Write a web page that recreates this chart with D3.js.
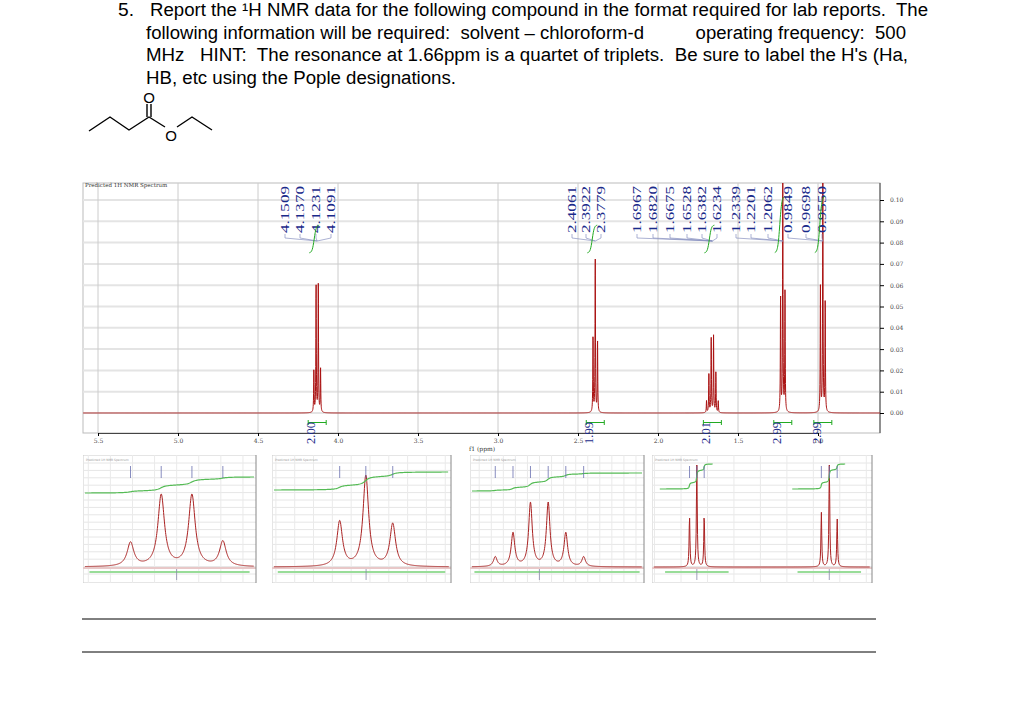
<!DOCTYPE html>
<html><head><meta charset="utf-8">
<script src="https://cdn.jsdelivr.net/npm/d3@7"></script>
<style>body{margin:0;background:#fff}svg{display:block}</style>
</head><body>
<svg id="c" width="1024" height="714"></svg>
<script>
const headerLines=["Report the ¹H NMR data for the following compound in the format required for lab reports.  The","following information will be required:  solvent – chloroform-d          operating frequency:  500","MHz   HINT:  The resonance at 1.66ppm is a quartet of triplets.  Be sure to label the H's (Ha,","HB, etc using the Pople designations."];
const headerWidths=[778,760,762,310];
const peakPpm=[[4.1509,4.1370,4.1231,4.1091],[2.4061,2.3922,2.3779],[1.6967,1.6820,1.6675,1.6528,1.6382,1.6234],[1.2339,1.2201,1.2062],[0.9849,0.9698,0.9550]];
const peakInt=[[0.020,0.060,0.060,0.021],[0.036,0.0725,0.034],[0.0055,0.019,0.036,0.036,0.019,0.0055],[0.055,0.115,0.057],[0.059,0.118,0.052]];
const integrals=["2.00","1.99","2.01","2.99","2.99"];
const labelX=[[285,300,316,331],[572,586,601],[637,653,670,687,702,717],[736,751,768],[788,806,822]];
const xTicks=[5.5,5.0,4.5,4.0,3.5,3.0,2.5,2.0,1.5,1.0];
const yTicks=[0,0.01,0.02,0.03,0.04,0.05,0.06,0.07,0.08,0.09,0.10];

const svg=d3.select("#c");
const F="Liberation Sans, Arial, sans-serif";
svg.append("text").attr("x",118).attr("y",16).attr("font-family",F).attr("font-size",18).attr("textLength",16).attr("lengthAdjust","spacingAndGlyphs").text("5.");
headerLines.forEach((t,i)=>svg.append("text").attr("x",i==0?150:146).attr("y",16+i*22.5).attr("font-family",F).attr("font-size",18).style("white-space","pre").attr("textLength",headerWidths[i]).attr("lengthAdjust","spacingAndGlyphs").text(t));
const mol=svg.append("g").attr("stroke","#000").attr("fill","none").attr("stroke-width",1.4);
mol.append("path").attr("d","M89,131 L110,117 L129,130 L149,117 L165,127");
mol.append("path").attr("d","M177,127 L192,117 L212,130");
mol.append("path").attr("d","M147,117 V104 M151,117 V104");
svg.append("text").attr("x",149).attr("y",103).attr("text-anchor","middle").attr("font-family",F).attr("font-size",15).text("O");
svg.append("text").attr("x",171).attr("y",141).attr("text-anchor","middle").attr("font-family",F).attr("font-size",15).text("O");

const x=d3.scaleLinear().domain([5.5,1.0]).range([98,818]);
const y=d3.scaleLinear().domain([0,0.10]).range([413,200]);
const L=83,R=880,T=183,B=433;
const g=svg.append("g");
g.append("rect").attr("x",L).attr("y",T).attr("width",R-L).attr("height",B-T).attr("fill","#fff").attr("stroke","#bbb");
yTicks.forEach(v=>g.append("line").attr("x1",L).attr("x2",R).attr("y1",y(v)).attr("y2",y(v)).attr("stroke","#e4e4e4").attr("stroke-width",2));
xTicks.forEach(v=>g.append("line").attr("x1",x(v)).attr("x2",x(v)).attr("y1",T).attr("y2",B).attr("stroke","#ccc"));
g.append("line").attr("x1",R).attr("x2",R).attr("y1",T).attr("y2",B).attr("stroke","#444");
const ya=d3.axisRight(y).tickValues(yTicks).tickFormat(d3.format(".2f")).tickSize(4);
g.append("g").attr("transform",`translate(${R},0)`).call(ya).call(s=>{s.select(".domain").remove();s.selectAll("text").attr("font-family","DejaVu Serif").attr("font-size",6).attr("fill","#444").attr("dx",3);});
const xa=d3.axisBottom(x).tickValues(xTicks).tickFormat(d3.format(".1f")).tickSize(3);
g.append("g").attr("transform",`translate(0,${B})`).call(xa).call(s=>{s.select(".domain").attr("stroke","#444");s.selectAll("text").attr("font-family","DejaVu Serif").attr("font-size",6).attr("fill","#444");});
g.append("text").attr("x",482).attr("y",451).attr("text-anchor","middle").attr("font-family","DejaVu Serif").attr("font-size",6).attr("fill","#333").text("f1 (ppm)");
g.append("text").attr("x",85).attr("y",187).attr("font-family","DejaVu Serif").attr("font-size",5.5).attr("fill","#333").text("Predicted 1H NMR Spectrum");
const allP=peakPpm.flat(),allI=peakInt.flat();
function spec(p,w){let s=0;allP.forEach((c,i)=>{s+=allI[i]*w*w/((p-c)*(p-c)+w*w)});return s;}
const pts=d3.range(5.6,0.6,-0.0008).map(p=>[p,spec(p,0.0016)]);
svg.append("clipPath").attr("id","clp").append("rect").attr("x",L).attr("y",T).attr("width",R-L).attr("height",B-T);
g.append("path").attr("clip-path","url(#clp)").attr("d",d3.line().x(d=>x(d[0])).y(d=>y(d[1]))(pts)).attr("fill","none").attr("stroke","#a11").attr("stroke-width",1);
const blue="#1a2a8a";
const LF="Liberation Serif, serif";
peakPpm.forEach((grp,gi)=>{
  const cx=x(d3.mean(grp));
  labelX[gi].forEach((lx,j)=>{
    g.append("text").attr("transform",`translate(${lx+4},233) rotate(-90)`).attr("font-family",LF).attr("font-size",11.5).attr("textLength",47).attr("lengthAdjust","spacingAndGlyphs").attr("fill",blue).text(grp[j].toFixed(4));
    g.append("path").attr("d",`M${lx},234 V238 L${cx},241`).attr("stroke","#8890c0").attr("fill","none").attr("stroke-width",0.7);
  });
  const big=gi>=3;
  const y0=253,y1=big?196:225;
  const ic=d3.range(0,1.001,0.05).map(t=>[cx-8+10*t, y0-(y0-y1)/(1+Math.exp(-(t-0.5)*10))]);
  g.append("path").attr("d",d3.line().curve(d3.curveBasis)(ic)).attr("stroke","#2a2").attr("fill","none").attr("stroke-width",1);
  g.append("path").attr("d",`M${cx-9},420 V425 M${cx-9},422.5 H${cx+9} M${cx+9},420 V425`).attr("stroke","#2a2").attr("stroke-width",1);
  g.append("text").attr("transform",`translate(${cx-2},444) rotate(-90)`).attr("font-family",LF).attr("font-size",12).attr("textLength",22).attr("lengthAdjust","spacingAndGlyphs").attr("fill",blue).text(integrals[gi]);
});

const panels=[{x0:83,x1:262,gs:[0],d:[4.1715,4.095],w:0.0018,top:494,ia:[493,477]},
 {x0:272,x1:457,gs:[1],d:[2.441,2.348],w:0.0018,top:475,ia:[490,472]},
 {x0:470,x1:650,gs:[2],d:[1.716,1.575],w:0.0018,top:502,ia:[491,473]},
 {x0:652,x1:878,gs:[3,4],d:[1.301,0.893],w:0.0009,top:468,ia:[489,464]}];
panels.forEach((pn,k)=>{
  const pg=svg.append("g");
  const yt=455,yb=583,base=567;
  svg.append("clipPath").attr("id","pc"+k).append("rect").attr("x",pn.x0).attr("y",yt).attr("width",pn.x1-pn.x0-6).attr("height",yb-yt);
  pg.attr("clip-path",`url(#pc${k})`);
  pg.append("rect").attr("x",pn.x0).attr("y",yt).attr("width",pn.x1-pn.x0).attr("height",yb-yt).attr("fill","#fff").attr("stroke","#ccc");
  const px=d3.scaleLinear().domain(pn.d).range([pn.x0+2,pn.x1-8]);
  d3.range(0,16).forEach(i=>pg.append("line").attr("x1",pn.x0).attr("x2",pn.x1-6).attr("y1",yt+8+i*7.4).attr("y2",yt+8+i*7.4).attr("stroke","#e6e6e6"));
  px.ticks(10).forEach(t=>pg.append("line").attr("x1",px(t)).attr("x2",px(t)).attr("y1",yt).attr("y2",yb).attr("stroke","#eaeaea"));
  const pp=d3.range(pn.d[0],pn.d[1],-(pn.d[0]-pn.d[1])/600).map(p=>[p,spec(p,pn.w)]);
  const mx=d3.max(pp,d=>d[1])*(pn.gs.length>1?0.9:1);
  const py=d3.scaleLinear().domain([0,mx]).range([base,pn.top]);
  pg.append("line").attr("x1",pn.x0).attr("x2",pn.x1-6).attr("y1",base+1).attr("y2",base+1).attr("stroke","#e8c8c8").attr("stroke-width",2);
  pg.append("path").attr("d",d3.line().x(d=>px(d[0])).y(d=>Math.max(py(d[1]),yt+10))(pp)).attr("stroke","#a22").attr("fill","none").attr("stroke-width",1);
  pn.gs.forEach(gi=>{
    let acc=0;const ip=[];
    const two=pn.gs.length>1, m=d3.mean(peakPpm[gi]);
    const lo=two?m+0.07:pn.d[0], hi=two?m-0.03:pn.d[1];
    const step=(lo-hi)/200;
    for(let p=lo;p>=hi;p-=step){acc+=spec(p,pn.w);ip.push([p,acc]);}
    const sc=d3.scaleLinear().domain([0,acc]).range(pn.ia);
    pg.append("path").attr("d",d3.line().x(d=>px(d[0])).y(d=>sc(d[1]))(ip)).attr("stroke","#5b5").attr("fill","none").attr("stroke-width",1.2);
    pg.append("line").attr("x1",px(two?m+0.06:pn.d[0]-0.002)).attr("x2",px(two?m-0.06:pn.d[1]+0.002)).attr("y1",572).attr("y2",572).attr("stroke","#9d9").attr("stroke-width",2);
    pg.append("line").attr("x1",px(m)).attr("x2",px(m)).attr("y1",569).attr("y2",580).attr("stroke","#88a").attr("stroke-width",0.8);
    peakPpm[gi].forEach(c=>pg.append("line").attr("x1",px(c)).attr("x2",px(c)).attr("y1",466).attr("y2",478).attr("stroke","#6a70b0").attr("stroke-width",0.8));
  });
  pg.append("text").attr("x",pn.x0+3).attr("y",yt+6).attr("font-family","DejaVu Sans").attr("font-size",3).attr("fill","#999").text("Predicted 1H NMR Spectrum");
  svg.append("line").attr("x1",pn.x1-6).attr("x2",pn.x1-6).attr("y1",yt).attr("y2",yb).attr("stroke","#888");
});
svg.append("line").attr("x1",82).attr("x2",876).attr("y1",619).attr("y2",619).attr("stroke","#000");
svg.append("line").attr("x1",82).attr("x2",876).attr("y1",652).attr("y2",652).attr("stroke","#000");
</script></body></html>
